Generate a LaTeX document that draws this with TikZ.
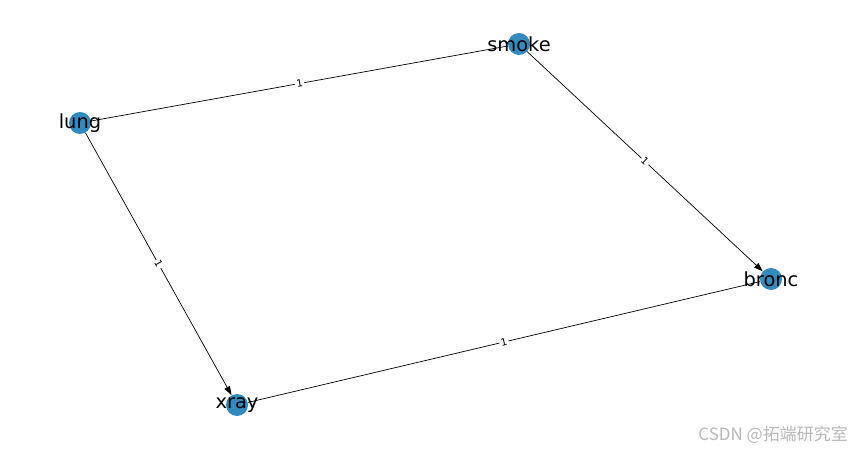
\documentclass[tikz,border=0pt]{standalone}
\usepackage{fontspec}
\setmainfont{DejaVu Sans}
\newfontfamily\cjkfont{Noto Sans CJK SC}
\usetikzlibrary{arrows.meta}
\definecolor{nodeblue}{RGB}{52,138,189}
\definecolor{wm}{RGB}{185,185,185}
\tikzset{
  vert/.style={circle, fill=nodeblue, draw=none, minimum size=22pt, inner sep=0pt},
  vlabel/.style={font=\fontsize{19.4}{23}\selectfont, text=black, inner sep=0pt},
  edge/.style={draw=black, line width=0.7pt},
  arr/.style={-{Triangle[length=9pt,width=6pt]}},
  lbl/.style={font=\fontsize{10}{12}\selectfont, fill=white, inner sep=1.5pt, sloped}
}
\begin{document}
\begin{tikzpicture}[x=1pt,y=-1pt]
\useasboundingbox (0,0) rectangle (851,449);
\fill[white] (0,0) rectangle (851,449);
\node[vert] (smoke) at (519,44) {};
\node[vert] (lung) at (80,123) {};
\node[vert] (bronc) at (771,279) {};
\node[vert] (xray) at (237,405) {};
\draw[edge] (lung) -- node[midway,lbl] {1} (smoke);
\draw[edge,arr] (smoke) -- node[midway,lbl] {1} (bronc);
\draw[edge,arr] (lung) -- node[midway,lbl] {1} (xray);
\draw[edge] (xray) -- node[midway,lbl] {1} (bronc);
\node[vlabel] (tsmoke) at (519,44) {smoke};
\node[vlabel] (tlung) at (80,123) {lung};
\node[vlabel] (tbronc) at (771,279) {bronc};
\node[vlabel] (txray) at (237,405) {xray};
\node[anchor=east, text=wm, inner sep=0pt, font=\cjkfont\fontsize{17}{19}\selectfont] (wmark) at (848,435) {CSDN @拓端研究室};
\end{tikzpicture}
\end{document}
